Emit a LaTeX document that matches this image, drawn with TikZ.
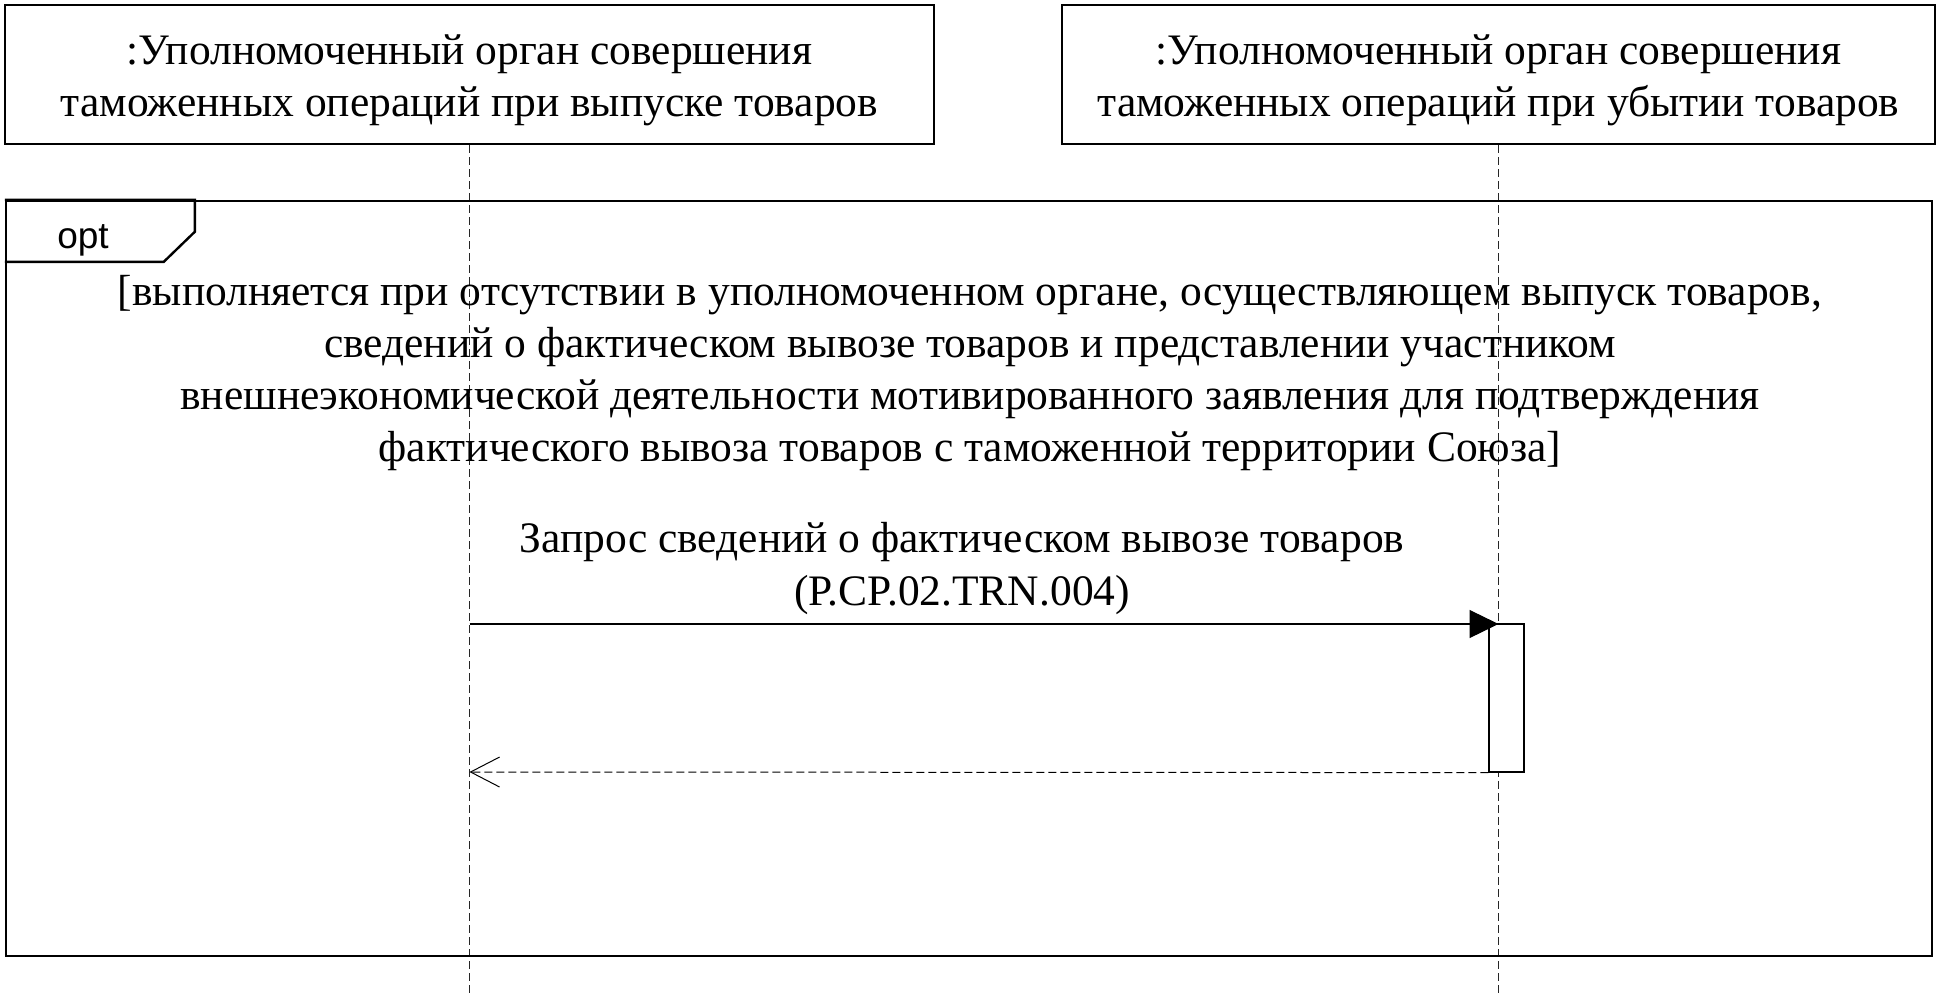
\documentclass[tikz,border=0pt]{standalone}
\usepackage{fontspec}
\setmainfont{Liberation Serif}
\newfontfamily\optfont{Liberation Sans}
\usetikzlibrary{arrows.meta}
\tikzset{
  x=1pt, y=-1pt,
  hdrbox/.style={draw=black, line width=2.4pt, inner sep=0pt},
  bigtext/.style={font=\fontsize{43.5}{52}\selectfont, align=center, inner sep=0pt},
  lifeline/.style={draw=black!85, line width=1pt, dash pattern=on 8pt off 4pt},
  framebox/.style={draw=black, line width=2.4pt},
  msgline/.style={draw=black, line width=1.2pt, -{Triangle[length=29pt,width=28pt]}},
  retline/.style={draw=black, line width=1pt, dash pattern=on 8pt off 4pt, -{Straight Barb[length=29pt,width=30pt,line width=1pt]}},
  actbox/.style={draw=black, fill=white, line width=1.2pt, inner sep=0pt},
}
\begin{document}
\begin{tikzpicture}
\useasboundingbox (0,0) rectangle (1938,993);
\fill[white] (0,0) rectangle (1938,993);
% header boxes
\node[hdrbox, minimum width=929pt, minimum height=139pt] (A) at (469.5,74.5) {};
\node[hdrbox, minimum width=873pt, minimum height=139pt] (B) at (1498.5,74.5) {};
\node[bigtext] (Atext) at (469.5,80) {:Уполномоченный орган совершения\\таможенных операций при выпуске товаров};
\node[bigtext] (Btext) at (1498.5,80) {:Уполномоченный орган совершения\\таможенных операций при убытии товаров};
% lifeline ends
\coordinate (Aend) at (469.5,993);
\coordinate (Bend) at (1498.5,993);
\draw[lifeline] (A.south) -- (Aend);
\draw[lifeline] (B.south) -- (Bend);
% frame
\node[framebox, minimum width=1926pt, minimum height=755pt, inner sep=0pt] (F) at (969,578.5) {};
\draw[line width=2.4pt] (F.north west) -- ++(190,0) -- ++(0,32) -- ++(-31,30) -- ++(-159,0);
\node[font=\optfont\fontsize{37}{42}\selectfont, inner sep=0pt] (opt) at (83,240) {opt};
% guard
\node[bigtext] (guard) at (970,373) {[выполняется при отсутствии в уполномоченном органе, осуществляющем выпуск товаров,\\сведений о фактическом вывозе товаров и представлении участником\\внешнеэкономической деятельности мотивированного заявления для подтверждения\\фактического вывоза товаров с таможенной территории Союза]};
% activation
\node[actbox, minimum width=35pt, minimum height=148pt] (act) at (1506.5,698) {};
\coordinate (m1s) at (469.5,624);
\coordinate (m1e) at (1498.5,624);
\draw[msgline] (m1s) -- (m1e);
\node[bigtext, font=\fontsize{43.5}{53}\selectfont] (msg) at (962,569) {Запрос сведений о фактическом вывозе товаров\\(P.CP.02.TRN.004)};
\coordinate (r1e) at (469.5,772);
\draw[retline] (act.south west) -- (r1e);
\end{tikzpicture}
\end{document}
